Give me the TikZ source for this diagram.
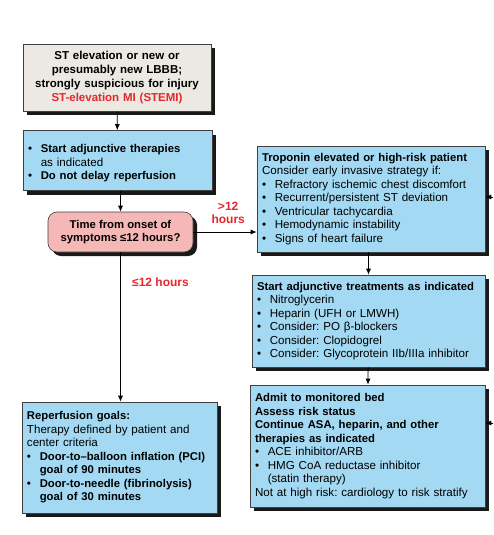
\documentclass[tikz,border=0pt]{standalone}
\usepackage{fontspec}
\setmainfont{Liberation Sans}
\usetikzlibrary{positioning, calc, shadows, arrows.meta}

\definecolor{boxblue}{HTML}{A3D9F2}
\definecolor{boxgrey}{HTML}{EBE9E1}
\definecolor{boxpink}{HTML}{F5B8B6}
\definecolor{labred}{HTML}{E5262D}
\newcommand{\bul}{\par\hangindent=1.1em\hangafter=1\noindent\makebox[1.1em][l]{\textbullet}}
\newcommand{\hd}[1]{{\fontsize{11.3}{13.5}\selectfont\bfseries #1}}
\frenchspacing

\begin{document}
\frenchspacing
\begin{tikzpicture}[x=1pt, y=-1pt]
	\tikzstyle{box}=[draw=black!75, line width=0.6pt, fill=boxblue, inner sep=6pt, inner xsep=5pt,
		font=\fontsize{11.6}{13.5}\selectfont, align=left,
		drop shadow={shadow xshift=4pt, shadow yshift=-4pt, fill=black, opacity=0.9}];
	\tikzstyle{arr}=[-{Latex[length=6pt, width=5pt]}, line width=0.8pt];
	\tikzstyle{lab}=[text=labred, font=\fontsize{12}{13}\selectfont\bfseries, align=center];

	\useasboundingbox (0, 0) rectangle (493, 535);

	\node[box, fill=boxgrey, minimum width=188pt, minimum height=67pt, text width=178pt, align=center, font=\fontsize{11.5}{14}\selectfont\bfseries] (stemi) at (117, 77.5)
		{ST elevation or new or\\ presumably new LBBB;\\ strongly suspicious for injury\\ \textcolor{labred}{ST-elevation MI (STEMI)}};
	\node[box, minimum width=189pt, minimum height=60pt, text width=179pt] (adjunct) at (117.5, 160.5)
		{\bul\hd{Start adjunctive therapies}\newline{}as indicated
		 \bul\hd{Do not delay reperfusion}\par};
	\node[box, fill=boxpink, rounded corners=9pt, minimum width=145pt, minimum height=40pt, align=center, font=\fontsize{11.3}{13.5}\selectfont\bfseries] (onset) at (120.5, 232)
		{Time from onset of\\ symptoms ≤12 hours?};

	\node[box, minimum width=228pt, minimum height=106pt, text width=218pt] (troponin) at (371, 199)
		{\hd{Troponin elevated or high-risk patient}\\ Consider early invasive strategy if:
		 \bul Refractory ischemic chest discomfort
		 \bul Recurrent/persistent ST deviation
		 \bul Ventricular tachycardia
		 \bul Hemodynamic instability
		 \bul Signs of heart failure\par};
	\node[box, minimum width=233pt, minimum height=92pt, text width=223pt] (treat) at (368.5, 321)
		{\hd{Start adjunctive treatments as indicated}
		 \bul Nitroglycerin
		 \bul Heparin (UFH or LMWH)
		 \bul Consider: PO β-blockers
		 \bul Consider: Clopidogrel
		 \bul Consider: Glycoprotein IIb/IIIa inhibitor\par};
	\node[box, minimum width=235pt, minimum height=122pt, text width=225pt] (admit) at (367.5, 446)
		{\hd{Admit to monitored bed}\\ \hd{Assess risk status}\\ \hd{Continue ASA, heparin, and other}\\ \hd{therapies as indicated}
		 \bul ACE inhibitor/ARB
		 \bul HMG CoA reductase inhibitor\newline{}(statin therapy)
		 \par Not at high risk: cardiology to risk stratify};
	\node[box, minimum width=195pt, minimum height=111pt, text width=185pt] (goals) at (119.5, 457.5)
		{\hd{Reperfusion goals:}\\ Therapy defined by patient and\\ center criteria
		 \bul\hd{Door-to–balloon inflation (PCI)}\newline\hd{goal of 90 minutes}
		 \bul\hd{Door-to-needle (fibrinolysis)}\newline\hd{goal of 30 minutes}\par};

	\coordinate (in1) at (493, 197);
	\coordinate (in2) at (493, 423);

	\draw (stemi) edge[arr] (adjunct);
	\draw (adjunct.south -| onset) edge[arr] (onset);
	\draw (onset.east) edge[arr] node [lab, above=5pt, pos=0.55] {>12\\ hours} (onset.east -| troponin.west);
	\draw (onset) edge[arr] node [lab, right, pos=0.2, xshift=8pt] {≤12 hours} (onset |- goals.north);
	\draw (troponin.south -| treat) edge[arr] (treat);
	\draw (treat) edge[arr] (admit);
	\draw (in1) edge[arr] (in1 -| troponin.east);
	\draw (in2) edge[arr] (in2 -| admit.east);
\end{tikzpicture}
\end{document}
